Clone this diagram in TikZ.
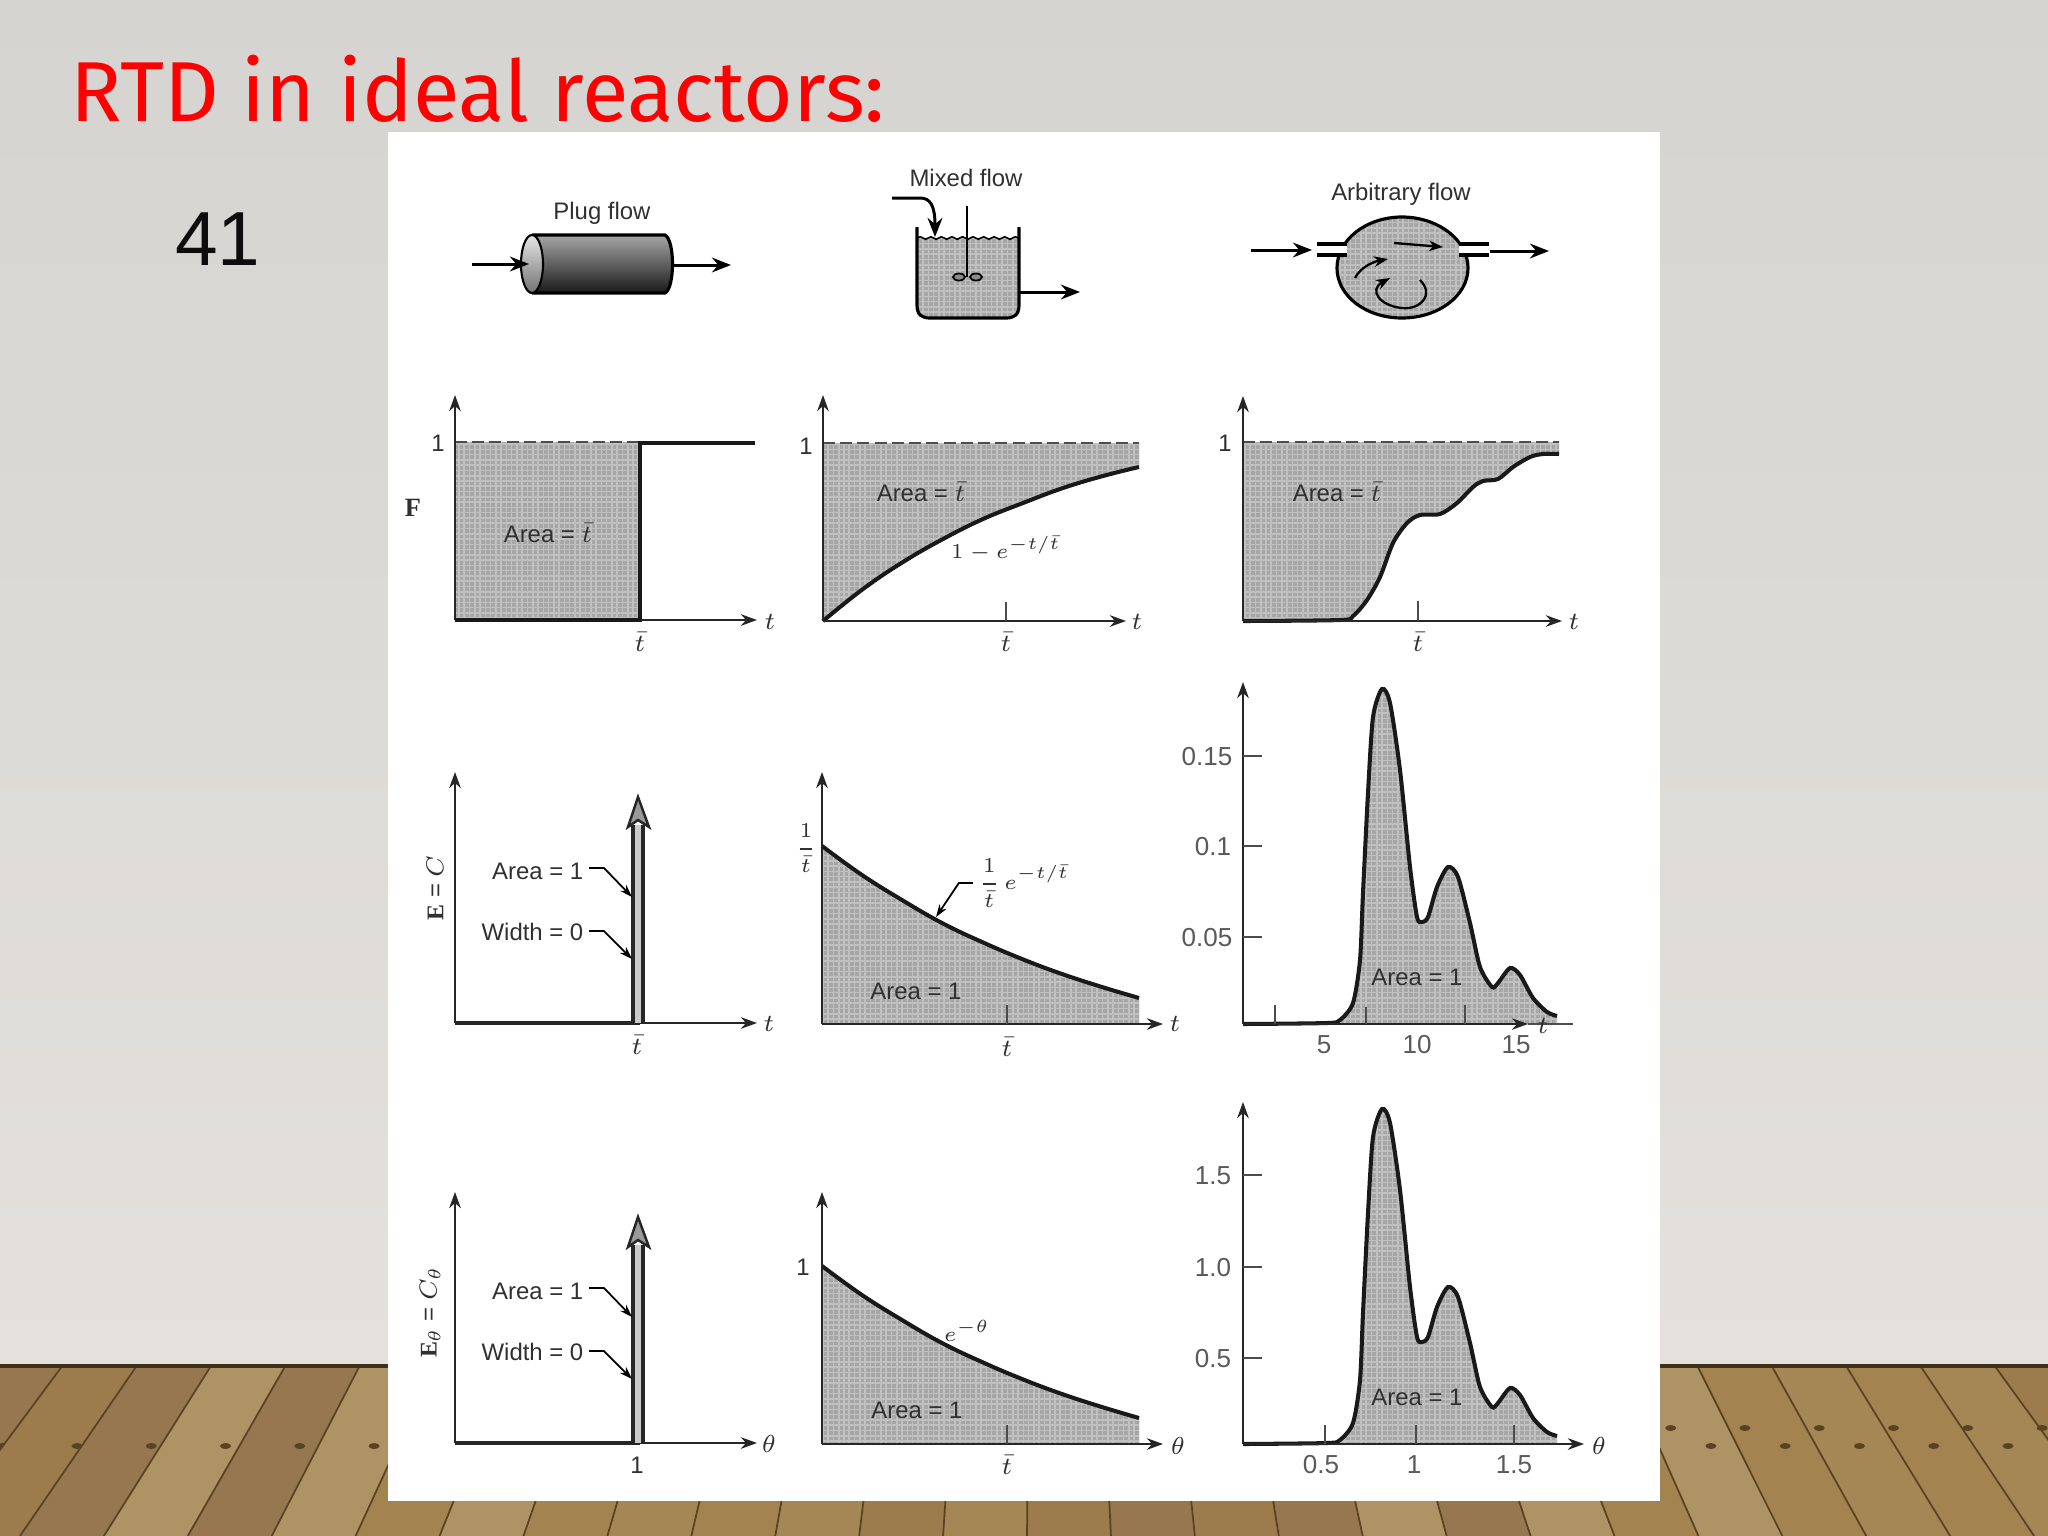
\documentclass[tikz,border=0pt]{standalone}
\usepackage{fontspec}
\setmainfont{Liberation Sans}
\newfontfamily\titlefont{Fira Sans}
\newfontfamily\labelserif{Liberation Serif}
\usetikzlibrary{arrows.meta,patterns,decorations.pathmorphing}
\definecolor{inktext}{HTML}{303030}
\definecolor{areagray}{HTML}{A6A6A6}
\definecolor{arealight}{HTML}{C0C0C0}
\definecolor{walltop}{HTML}{D5D4D0}
\definecolor{wallmid}{HTML}{E2E1DD}
\definecolor{wallbot}{HTML}{E4E1DD}
\definecolor{wood0}{HTML}{9C7C4C}
\definecolor{wood1}{HTML}{A3834F}
\definecolor{wood2}{HTML}{977750}
\definecolor{wood3}{HTML}{A58655}
\definecolor{wood4}{HTML}{AE9464}
\definecolor{woodgap}{HTML}{5A4222}
\pgfdeclarepatternformonly{stipplegrid}{\pgfqpoint{-1pt}{-1pt}}{\pgfqpoint{2.5pt}{2.5pt}}{\pgfqpoint{1.5pt}{1.5pt}}{%
\pgfsetlinewidth{.45pt}
\pgfpathmoveto{\pgfqpoint{0pt}{0pt}}\pgfpathlineto{\pgfqpoint{1.5pt}{0pt}}
\pgfpathmoveto{\pgfqpoint{0pt}{0pt}}\pgfpathlineto{\pgfqpoint{0pt}{1.5pt}}
\pgfusepath{stroke}}
\tikzset{
  stipple/.style={preaction={fill=areagray},pattern=stipplegrid,pattern color=arealight},
  axisline/.style={line width=.55pt,draw=black!85,-{Stealth[length=4.6pt,width=3.3pt]}},
  tickline/.style={line width=.45pt,draw=black!70},
  heavyline/.style={line width=1.15pt,draw=black!90},
  dashline/.style={line width=.5pt,draw=black!70,dash pattern=on 3.4pt off 1.5pt},
  flowarrow/.style={line width=.85pt,-{Stealth[length=5.4pt,width=4.2pt]}},
  smallarrow/.style={line width=.5pt,-{Stealth[length=3.6pt,width=2.4pt]}},
  swirlarrow/.style={line width=.65pt,-{Stealth[length=4pt,width=3pt]}},
  labeltext/.style={font=\fontsize{6.8pt}{8pt}\selectfont,text=inktext,inner sep=0pt},
  formtext/.style={font=\fontsize{5.6pt}{7pt}\selectfont,text=inktext,inner sep=0pt},
  ticktext/.style={font=\fontsize{7.4pt}{9pt}\selectfont,text=black!65,inner sep=0pt},
}
\newcommand{\mixedcurve}{plot[smooth,tension=.7] coordinates {(1139,467) (1103,476) (1063,488) (1023,503) (983,519) (943,539) (903,562) (863,589) (823,621)}}
\newcommand{\arbcurve}{plot[smooth,tension=.5] coordinates {(1559,454) (1543,454) (1530,457) (1513,467) (1498,479) (1483,481) (1473,487) (1457,503) (1440,514) (1420,515) (1407,523) (1393,543) (1380,577) (1367,600) (1353,616) (1340,620) (1243,621)}}
\newcommand{\decaycurve}{plot[smooth,tension=.7] coordinates {(822,846) (862,875) (902,900) (942,923) (982,942) (1022,959) (1062,974) (1102,987) (1139,998)}}
\newcommand{\peakcurve}{plot[smooth,tension=.45] coordinates {(1557,1016) (1547,1012) (1533,998) (1520,975) (1510,968) (1498,983) (1492,987) (1480,967) (1470,923) (1458,877) (1448,867) (1437,887) (1428,917) (1422,922) (1417,917) (1410,867) (1400,770) (1390,703) (1382,689) (1373,717) (1368,793) (1363,893) (1360,960) (1353,1003) (1340,1020) (1327,1023) (1243,1024)}}
\begin{document}
\begin{tikzpicture}[x=0.01cm,y=-0.01cm]
\useasboundingbox (0,0) rectangle (2048,1536);
% wall and floor
\shade[top color=walltop,middle color=wallmid,bottom color=wallbot] (0,0) rectangle (2048,1366);
\fill[wood0] (0,1365) rectangle (2048,1536);
\foreach \i in {-2,...,28} {
  \pgfmathtruncatemacro{\m}{mod(abs(\i)*7+int(abs(\i)/3),5)}
  \pgfmathsetmacro{\xa}{63+74.27*\i}
  \pgfmathsetmacro{\xb}{\xa+74.27}
  \fill[wood\m] (\xa,1365) -- (\xb,1365) -- ({1040+(\xb-1040)*1.13},1536) -- ({1040+(\xa-1040)*1.13},1536) -- cycle;
  \draw[woodgap,line width=.5pt] (\xa,1365) -- ({1040+(\xa-1040)*1.13},1536);
  \fill[woodgap] ({\xa+48},1428) circle[x radius=.055cm,y radius=.03cm];
  \fill[woodgap] ({\xa+14},1446) circle[x radius=.055cm,y radius=.03cm];
}
\draw[woodgap!70!black,line width=1.1pt] (0,1366) -- (2048,1366);
\fill[white] (388,132) rectangle (1660,1501);
\node[font=\titlefont\fontsize{24.2pt}{30pt}\selectfont,text=red,anchor=base west,inner sep=0pt] (slidetitle) at (70,121) {RTD in ideal reactors:};
\node[font=\fontsize{21.8pt}{28pt}\selectfont,text=black!95,inner sep=0pt] (slidenum) at (218,239) {41};
% plug flow
\node[labeltext] (plughead) at (602,213) {Plug flow};
\shade[top color=black!35,middle color=black!45,bottom color=black!90] (532,235) -- (665,235) .. controls (675,240) and (675,288) .. (665,293) -- (532,293) -- cycle;
\draw[line width=.9pt] (532,235) -- (665,235) .. controls (675,240) and (675,288) .. (665,293) -- (532,293);
\draw[line width=.6pt,top color=black!10,bottom color=black!55] (532,264) circle[x radius=.11cm,y radius=.29cm];
\coordinate (plugin) at (472,264);
\coordinate (plugleft) at (529,264);
\coordinate (plugright) at (672,265);
\coordinate (plugout) at (731,265);
\draw[flowarrow] (plugin) -- (plugleft);
\draw[flowarrow] (plugright) -- (plugout);
% mixed flow
\node[labeltext] (mixhead) at (966,178) {Mixed flow};
\fill[stipple] (917,238) -- (1019,238) -- (1019,305) .. controls (1019,315) and (1014,318) .. (1006,318) -- (930,318) .. controls (922,318) and (917,315) .. (917,305) -- cycle;
\draw[decorate,decoration={snake,amplitude=.35pt,segment length=3pt},line width=.45pt] (917,238) -- (1019,238);
\draw[line width=.9pt] (917,227) -- (917,305) .. controls (917,315) and (922,318) .. (930,318) -- (1006,318) .. controls (1014,318) and (1019,315) .. (1019,305) -- (1019,227);
\draw[line width=.6pt] (967,206) -- (967,277);
\draw[line width=.5pt,fill=black!45] (959,277) circle[x radius=.06cm,y radius=.035cm];
\draw[line width=.5pt,fill=black!45] (976,277) circle[x radius=.06cm,y radius=.035cm];
\coordinate (mixin) at (892,198);
\coordinate (mixdown) at (935,237);
\coordinate (mixwall) at (1019,292);
\coordinate (mixout) at (1080,292);
\draw[flowarrow] (mixin) -- (920,198) .. controls (930,198) and (935,205) .. (mixdown);
\draw[flowarrow] (mixwall) -- (mixout);
% arbitrary flow
\node[labeltext] (arbhead) at (1401,194) {Arbitrary flow};
\draw[stipple,line width=.9pt] (1402,217) .. controls (1438,217) and (1468,240) .. (1468,268) .. controls (1468,296) and (1438,318) .. (1402,318) .. controls (1366,318) and (1337,296) .. (1337,268) .. controls (1337,240) and (1366,217) .. (1402,217) -- cycle;
\foreach \xa/\xb in {1317/1347,1459/1489} {
  \fill[white] (\xa,245) rectangle (\xb,254);
  \draw[line width=.9pt] (\xa,244) -- (\xb,244) (\xa,255) -- (\xb,255);
}
\coordinate (arbin) at (1251,250);
\coordinate (arbleft) at (1312,250);
\coordinate (arbright) at (1490,251);
\coordinate (arbout) at (1549,251);
\draw[flowarrow] (arbin) -- (arbleft);
\draw[flowarrow] (arbright) -- (arbout);
\draw[swirlarrow] (1394,243) -- (1443,247);
\draw[swirlarrow] (1355,278) .. controls (1360,268) and (1372,262) .. (1388,259);
\draw[swirlarrow] (1420,280) .. controls (1435,295) and (1420,310) .. (1402,308) .. controls (1380,306) and (1368,290) .. (1390,278);
% F curves
\fill[stipple] (455,442) rectangle (640,620);
\draw[dashline] (455,442) -- (640,442);
\draw[axisline] (455,620) -- (455,395);
\draw[axisline] (640,620) -- (757,620);
\draw[heavyline] (455,620) -- (640,620) -- (640,443) -- (755,443);
\node[labeltext] (fone) at (438,443) {1};
\node[labeltext,font=\labelserif\bfseries\fontsize{7.5pt}{9pt}\selectfont] (fname) at (413,508) {F};
\node[labeltext] (farea) at (548,533) {Area = $\bar t$};
\node[labeltext] (ftbar) at (640,642) {$\bar t$};
\node[labeltext] (ft) at (770,622) {$t$};
\fill[stipple] \mixedcurve -- (823,443) -- (1139,443) -- cycle;
\draw[heavyline] \mixedcurve;
\draw[dashline] (823,443) -- (1139,443);
\draw[axisline] (823,621) -- (823,395);
\draw[axisline] (823,621) -- (1126,621);
\draw[tickline] (1006,602) -- (1006,621);
\node[labeltext] (mone) at (806,446) {1};
\node[labeltext] (marea) at (921,492) {Area = $\bar t$};
\node[formtext] (mform) at (1006,549) {$1-e^{-t/\bar t}$};
\node[labeltext] (mtbar) at (1006,642) {$\bar t$};
\node[labeltext] (mt) at (1137,622) {$t$};
\fill[stipple] \arbcurve -- (1243,442) -- (1559,442) -- cycle;
\draw[heavyline] \arbcurve;
\draw[dashline] (1243,442) -- (1559,442);
\draw[axisline] (1243,621) -- (1243,396);
\draw[axisline] (1243,621) -- (1562,621);
\draw[tickline] (1418,601) -- (1418,621);
\node[labeltext] (aone) at (1225,443) {1};
\node[labeltext] (aarea) at (1337,492) {Area = $\bar t$};
\node[labeltext] (atbar) at (1418,642) {$\bar t$};
\node[labeltext] (at) at (1574,622) {$t$};
% E curves, the lower row is the same shape
\foreach \dy/\tag/\ticklab/\axlab in {0/e/$\bar t$/$t$,420/g/1/$\theta$} {
\begin{scope}[shift={(0,\dy)}]
  \draw[axisline] (455,1023) -- (455,772);
  \draw[axisline] (455,1023) -- (757,1023);
  \draw[line width=.9pt,draw=black!85] (455,1023) -- (640,1023);
  \fill[areagray!60] (633,1023) rectangle (643,825);
  \draw[line width=.9pt,draw=black!85] (633,1023) -- (633,825) (643,1023) -- (643,825);
  \draw[line width=.7pt,draw=black!85,fill=black!40] (638,797) -- (649,827) -- (638,820) -- (628,827) -- cycle;
  \node[labeltext,anchor=east] (\tag areaone) at (584,871) {Area = 1};
  \node[labeltext,anchor=east] (\tag widthzero) at (584,932) {Width = 0};
  \coordinate (\tag areaend) at (632,897);
  \coordinate (\tag widthend) at (632,959);
  \draw[smallarrow] (\tag areaone.east) ++(5,-3) -- ++(15,0) -- (\tag areaend);
  \draw[smallarrow] (\tag widthzero.east) ++(5,-1) -- ++(15,0) -- (\tag widthend);
  \node[labeltext] (\tag tick) at (637,1045) {\ticklab};
  \node[labeltext] (\tag ax) at (769,1024) {\axlab};
  \fill[stipple] \decaycurve -- (1139,1024) -- (822,1024) -- cycle;
  \draw[heavyline] \decaycurve;
  \draw[axisline] (822,1024) -- (822,772);
  \draw[axisline] (822,1024) -- (1163,1024);
  \draw[tickline] (1007,1005) -- (1007,1024);
  \fill[stipple] \peakcurve -- (1243,1024) -- (1557,1024) -- cycle;
  \draw[heavyline] \peakcurve;
  \draw[axisline] (1243,1024) -- (1243,682);
\end{scope}
}
\node[labeltext,rotate=90] (ename) at (435,888) {{\labelserif\bfseries E} = $C$};
\node[formtext,font=\fontsize{6.4pt}{8pt}\selectfont] (esone) at (806,848) {$\displaystyle\frac{1}{\bar t}$};
\node[formtext,font=\fontsize{5.8pt}{7pt}\selectfont] (esform) at (1024,883) {$\displaystyle\frac{1}{\bar t}\,e^{-t/\bar t}$};
\coordinate (esend) at (936,917);
\draw[smallarrow] (esform.west) ++(-5,0) -- ++(-14,0) -- (esend);
\node[labeltext] (esarea) at (916,991) {Area = 1};
\node[labeltext] (estbar) at (1007,1047) {$\bar t$};
\node[labeltext] (est) at (1175,1024) {$t$};
% peak plot, time
\draw[axisline] (1243,1024) -- (1528,1024);
\draw[tickline] (1528,1024) -- (1573,1024);
\foreach \xt/\ya in {1275/1005,1366/1007,1465/1005} {
  \draw[tickline] (\xt,\ya) -- (\xt,1024);
}
\foreach \yt/\xl/\lab in {756/1207/0.15,846/1213/0.1,937/1207/0.05} {
  \draw[tickline] (1243,\yt) -- (1262,\yt);
  \node[ticktext] at (\xl,\yt+1) {\lab};
}
\foreach \xl/\lab in {1324/5,1417/10,1516/15} {
  \node[ticktext] at (\xl,1045) {\lab};
}
\node[labeltext] (parea) at (1417,977) {Area = 1};
\node[labeltext] (pt) at (1543,1026) {$t$};
% lower row
\node[labeltext,rotate=90] (gname) at (430,1312) {{\labelserif\bfseries E}$_\theta$ = $C_\theta$};
\node[labeltext] (gsone) at (803,1267) {1};
\node[formtext] (gsform) at (967,1331) {$e^{-\theta}$};
\node[labeltext] (gsarea) at (917,1410) {Area = 1};
\node[labeltext] (gstbar) at (1007,1465) {$\bar t$};
\node[labeltext] (gst) at (1178,1446) {$\theta$};
\draw[axisline] (1243,1444) -- (1584,1444);
\foreach \xt in {1325,1416,1514} {
  \draw[tickline] (\xt,1425) -- (\xt,1444);
}
\foreach \yt/\lab in {1175/1.5,1267/1.0,1358/0.5} {
  \draw[tickline] (1243,\yt) -- (1262,\yt);
  \node[ticktext] at (1213,\yt+1) {\lab};
}
\foreach \xl/\lab in {1321/0.5,1414/1,1514/1.5} {
  \node[ticktext] at (\xl,1465) {\lab};
}
\node[labeltext] (qarea) at (1417,1397) {Area = 1};
\node[labeltext] (qt) at (1599,1446) {$\theta$};
\end{tikzpicture}
\end{document}
